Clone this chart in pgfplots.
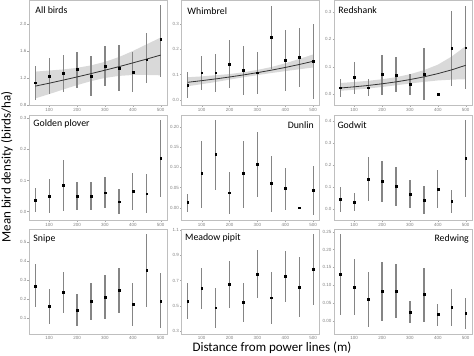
\documentclass[border=0pt]{standalone}
\usepackage{fontspec}
\setmainfont{Carlito}
\newfontfamily\tickfont{Liberation Sans}
\usepackage{pgfplots}
\usepackage{pgfplotstable}
\pgfplotsset{compat=1.18}

\pgfplotstableread{
x y lo hi
50 1.13 0.87 1.38
100 1.23 0.96 1.49
150 1.27 1.00 1.54
200 1.33 1.05 1.59
250 1.23 0.94 1.52
300 1.38 1.08 1.68
350 1.34 1.01 1.69
400 1.29 1.00 1.58
450 1.47 1.13 1.86
500 1.78 1.22 2.28
}\allbirds
\pgfplotstableread{
x f
50 1.080
100 1.123
150 1.169
200 1.216
250 1.265
300 1.316
350 1.368
400 1.424
450 1.481
500 1.540
}\allbirdsfit
\pgfplotstableread{
x b
50 1.295
100 1.311
150 1.327
200 1.351
250 1.387
300 1.440
350 1.510
400 1.600
450 1.700
500 1.800
500 1.240
450 1.245
400 1.245
350 1.231
300 1.201
250 1.154
200 1.095
150 1.030
100 0.962
50 0.898
}\allbirdsband
\pgfplotstableread{
x y lo hi
50 0.059 0.009 0.111
100 0.108 0.041 0.173
150 0.108 0.032 0.182
200 0.142 0.046 0.237
250 0.118 0.020 0.215
300 0.108 0.024 0.190
350 0.248 0.122 0.373
400 0.157 0.037 0.276
450 0.168 0.050 0.283
500 0.153 0.005 0.300
}\whimbrel
\pgfplotstableread{
x f
50 0.0700
100 0.0764
150 0.0833
200 0.0909
250 0.0991
300 0.1081
350 0.1179
400 0.1286
450 0.1403
500 0.1530
}\whimbrelfit
\pgfplotstableread{
x b
50 0.0899
100 0.0933
150 0.0978
200 0.1025
250 0.1095
300 0.1189
350 0.1303
400 0.1450
450 0.1622
500 0.1800
500 0.1285
450 0.1214
400 0.1141
350 0.1067
300 0.0983
250 0.0897
200 0.0806
150 0.0710
100 0.0626
50 0.0545
}\whimbrelband
\pgfplotstableread{
x y lo hi
50 0.024 -0.009 0.056
100 0.061 0.000 0.119
150 0.024 -0.006 0.055
200 0.072 -0.002 0.142
250 0.070 0.007 0.135
300 0.036 -0.004 0.074
350 0.074 -0.021 0.167
400 0.000 0.000 0.000
450 0.167 0.030 0.304
500 0.170 0.018 0.322
}\redshank
\pgfplotstableread{
x f
50 0.0230
100 0.0273
150 0.0323
200 0.0383
250 0.0453
300 0.0537
350 0.0636
400 0.0754
450 0.0893
500 0.1058
}\redshankfit
\pgfplotstableread{
x b
50 0.0411
100 0.0450
150 0.0492
200 0.0549
250 0.0624
300 0.0732
350 0.0880
400 0.1080
450 0.1380
500 0.1760
500 0.0550
450 0.0535
400 0.0505
350 0.0453
300 0.0394
250 0.0329
200 0.0267
150 0.0212
100 0.0166
50 0.0129
}\redshankband
\pgfplotstableread{
x y lo hi
50 0.0375 0.000 0.077
100 0.050 -0.005 0.104
150 0.085 0.003 0.166
200 0.050 0.005 0.095
250 0.050 0.005 0.095
300 0.061 0.011 0.110
350 0.032 -0.009 0.072
400 0.065 0.005 0.124
450 0.058 -0.004 0.120
500 0.171 0.046 0.295
}\goldenplover
\pgfplotstableread{
x y lo hi
50 0.013 -0.011 0.035
100 0.085 0.000 0.165
150 0.132 0.044 0.216
200 0.037 -0.016 0.088
250 0.085 0.000 0.165
300 0.108 0.026 0.188
350 0.060 -0.010 0.128
400 0.049 -0.006 0.099
450 0.000 0.000 0.000
500 0.044 -0.018 0.103
}\dunlin
\pgfplotstableread{
x y lo hi
50 0.045 -0.011 0.100
100 0.032 -0.008 0.073
150 0.138 0.038 0.239
200 0.127 0.035 0.219
250 0.103 0.015 0.190
300 0.069 0.005 0.133
350 0.042 -0.023 0.106
400 0.091 0.008 0.178
450 0.035 -0.015 0.088
500 0.231 0.054 0.405
}\godwit
\pgfplotstableread{
x y lo hi
50 0.270 0.157 0.384
100 0.165 0.072 0.256
150 0.235 0.128 0.340
200 0.141 0.060 0.225
250 0.188 0.093 0.286
300 0.212 0.097 0.326
350 0.248 0.130 0.365
400 0.173 0.060 0.286
450 0.353 0.161 0.541
500 0.191 0.048 0.335
}\snipe
\pgfplotstableread{
x y lo hi
50 0.539 0.395 0.681
100 0.637 0.474 0.795
150 0.484 0.326 0.642
200 0.668 0.484 0.854
250 0.526 0.368 0.684
300 0.750 0.561 0.945
350 0.563 0.357 0.766
400 0.734 0.526 0.935
450 0.647 0.413 0.883
500 0.787 0.504 1.072
}\meadowpipit
\pgfplotstableread{
x y lo hi
50 0.131 0.017 0.244
100 0.095 0.017 0.173
150 0.060 -0.016 0.136
200 0.084 0.001 0.166
250 0.084 0.007 0.159
300 0.024 -0.007 0.057
350 0.074 -0.002 0.147
400 0.018 -0.014 0.047
450 0.038 -0.014 0.090
500 0.022 -0.022 0.065
}\redwing

\tikzset{ttl/.style={font=\fontsize{9.8}{11}\selectfont, inner sep=0pt}}
\pgfplotsset{
  panel/.style={
    scale only axis, width=138pt, height=105pt,
    anchor=south west,
    xmin=27.5, xmax=522.5,
    xtick={100,200,300,400,500},
    tick pos=left, tick align=outside,
    major tick length=1.5pt,
    axis line style={black!25, line width=0.6pt},
    tick style={black!35, line width=0.4pt},
    ticklabel style={font=\tickfont\fontsize{4.5}{5}\selectfont, text=black!50, inner sep=1pt},
    /pgf/number format/assume math mode=true,
    yticklabel style={/pgf/number format/fixed, /pgf/number format/fixed zerofill, /pgf/number format/precision=1},
  },
  prec2/.style={yticklabel style={/pgf/number format/precision=2}},
  ptstyle/.style={only marks, mark=square*, mark size=0.9pt, black,
    error bars/.cd, y dir=both, y explicit, error mark=none,
    error bar style={line width=1.2pt, black!48}},
}
\newcommand{\drawpts}[1]{\addplot[ptstyle] table[x=x, y=y, y error plus expr=\thisrow{hi}-\thisrow{y}, y error minus expr=\thisrow{y}-\thisrow{lo}] {#1};}
\newcommand{\drawband}[1]{\addplot[fill=black!15, draw=none, forget plot] table[x=x, y=b] {#1};}
\newcommand{\drawfit}[1]{\addplot[black!80, line width=0.8pt, no marks] table[x=x, y=f] {#1};}

\begin{document}
\begin{tikzpicture}
\path[use as bounding box] (0,0) rectangle (474pt,356pt);

% Row 1
\begin{axis}[panel, at={(29pt,250.5pt)}, ymin=0.793, ymax=2.348, ytick={0.8,1.2,1.6,2.0}]
\drawband{\allbirdsband}
\drawpts{\allbirds}
\drawfit{\allbirdsfit}
\node[ttl, anchor=west] at (rel axis cs:0.045,0.905) {All birds};
\end{axis}
\begin{axis}[panel, at={(181.5pt,250.5pt)}, ymin=-0.0217, ymax=0.393, ytick={0,0.1,0.2,0.3}]
\drawband{\whimbrelband}
\drawpts{\whimbrel}
\drawfit{\whimbrelfit}
\node[ttl, anchor=west] at (rel axis cs:0.042,0.9) {Whimbrel};
\end{axis}
\begin{axis}[panel, at={(334pt,250.5pt)}, ymin=-0.0408, ymax=0.342, ytick={0,0.1,0.2,0.3}]
\drawband{\redshankband}
\drawpts{\redshank}
\drawfit{\redshankfit}
\node[ttl, anchor=west] at (rel axis cs:0.031,0.905) {Redshank};
\end{axis}

% Row 2
\begin{axis}[panel, at={(29pt,135.5pt)}, ymin=-0.0283, ymax=0.309, ytick={0,0.1,0.2,0.3}]
\drawpts{\goldenplover}
\node[ttl, anchor=west] at (rel axis cs:0.031,0.92) {Golden plover};
\end{axis}
\begin{axis}[panel, prec2, at={(181.5pt,135.5pt)}, ymin=-0.0316, ymax=0.2277, ytick={0,0.05,0.1,0.15,0.2}]
\drawpts{\dunlin}
\node[ttl, anchor=east] at (rel axis cs:0.96,0.905) {Dunlin};
\end{axis}
\begin{axis}[panel, at={(334pt,135.5pt)}, ymin=-0.0507, ymax=0.425, ytick={0,0.1,0.2,0.3,0.4}]
\drawpts{\godwit}
\node[ttl, anchor=west] at (rel axis cs:0.024,0.91) {Godwit};
\end{axis}

% Row 3
\begin{axis}[panel, at={(29pt,22pt)}, ymin=0.0178, ymax=0.5675, ytick={0.1,0.2,0.3,0.4,0.5}]
\drawpts{\snipe}
\node[ttl, anchor=west] at (rel axis cs:0.031,0.91) {Snipe};
\end{axis}
\begin{axis}[panel, at={(181.5pt,22pt)}, ymin=0.276, ymax=1.108, ytick={0.3,0.5,0.7,0.9,1.1}]
\drawpts{\meadowpipit}
\node[ttl, anchor=west] at (rel axis cs:0.025,0.92) {Meadow pipit};
\end{axis}
\begin{axis}[panel, prec2, at={(334pt,22pt)}, ymin=-0.0364, ymax=0.2576, ytick={0,0.05,0.1,0.15,0.2,0.25}]
\drawpts{\redwing}
\node[ttl, anchor=east] at (rel axis cs:0.978,0.91) {Redwing};
\end{axis}

\node[font=\fontsize{13}{15}\selectfont, inner sep=0pt] at (272pt,8pt) {Distance from power lines (m)};
\node[font=\fontsize{13}{15}\selectfont, inner sep=0pt, rotate=90] at (7pt,189pt) {Mean bird density (birds/ha)};
\end{tikzpicture}
\end{document}
